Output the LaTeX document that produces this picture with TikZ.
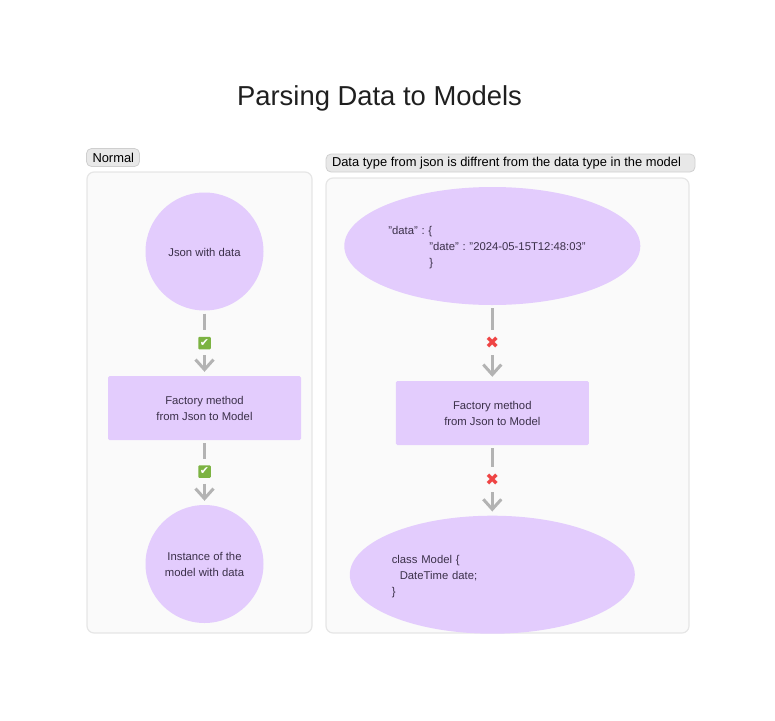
\documentclass[tikz,border=0pt]{standalone}
\usepackage{fontspec}
\setmainfont{Liberation Sans}
\newfontfamily\symbolfont{DejaVu Sans}
\usepackage{tikz}
\usetikzlibrary{arrows.meta}
\usetikzlibrary{shapes.geometric}
\definecolor{lilac}{HTML}{E3CCFD}
\definecolor{panelfill}{HTML}{FAFAFA}
\definecolor{panelline}{HTML}{E6E6E6}
\definecolor{tagfill}{HTML}{E8E8E8}
\definecolor{tagline}{HTML}{CFCFCF}
\definecolor{inktext}{HTML}{3B3049}
\definecolor{linkgrey}{HTML}{B3B3B3}
\definecolor{okgreen}{HTML}{7CB342}
\definecolor{badred}{HTML}{EF4444}
\frenchspacing
\tikzset{
  panel/.style={draw=panelline, line width=1.2pt, fill=panelfill, rounded corners=7pt, inner sep=0pt},
  tag/.style={draw=tagline, line width=0.8pt, fill=tagfill, rounded corners=5pt, inner ysep=0pt, inner xsep=6pt, minimum height=18pt, align=flush left, text=black, font=\fontsize{12.9}{16}\selectfont},
  nudge/.style={execute at begin node={\rule{0pt}{#1}}},
  blob/.style={fill=lilac, inner sep=0pt, text=inktext, font=\fontsize{11.3}{16}\selectfont, align=center, nudge=10pt},
  okmark/.style={fill=okgreen, rounded corners=1pt, minimum size=12.5pt, inner sep=0pt, text=white, font=\symbolfont\fontsize{11}{11}\selectfont},
  badmark/.style={minimum size=12.5pt, inner sep=0pt, text=badred, font=\symbolfont\fontsize{16.5}{17}\selectfont},
  linkin/.style={draw=linkgrey, line width=3pt, shorten <=3pt, shorten >=6.5pt},
  linkout/.style={draw=linkgrey, line width=3pt, shorten <=6pt, shorten >=4pt, -{Straight Barb[length=10pt,width=18pt]}}
}
\begin{document}
\begin{tikzpicture}[x=1pt, y=-1pt]
\useasboundingbox (0, 0) rectangle (775, 720);
\node[text=black!88, font=\fontsize{27.4}{32}\selectfont] (title) at (379.5, 98.5) {Parsing Data to Models};

\node[tag, text width=41pt] (normaltag) at (113, 157.5) {Normal};
\node[tag, text width=357pt] (wrongtag) at (510.5, 163) {Data type from json is diffrent from the data type in the model};
\node[panel, minimum width=225pt, minimum height=461pt] (normalpanel) at (199.5, 402.5) {};
\node[panel, minimum width=363pt, minimum height=455pt] (wrongpanel) at (507.5, 405.5) {};

\node[blob, circle, minimum size=118pt] (jsoncircle) at (204.5, 251.5) {Json with data};
\node[blob, rounded corners=1.5pt, minimum width=193pt, minimum height=64pt] (factoryleft) at (204.5, 408) {Factory method\\from Json to Model};
\node[blob, circle, minimum size=118pt] (instancecircle) at (204.5, 564) {Instance of the\\model with data};
\node[okmark] (okone) at (204.5, 343) {✔};
\node[okmark] (oktwo) at (204.5, 471.5) {✔};

\node[blob, ellipse, nudge=12pt, minimum width=296pt, minimum height=118pt, text width=208pt, align=left] (jsonellipse) at (492.3, 246) {"data" : \{\\\hspace*{41pt}"date" : "2024-05-15T12:48:03"\\\hspace*{41pt}\}};
\node[blob, rounded corners=1.5pt, minimum width=193pt, minimum height=64pt] (factoryright) at (492.3, 413) {Factory method\\from Json to Model};
\node[blob, ellipse, nudge=12pt, minimum width=285pt, minimum height=118pt, text width=201pt, align=left] (modelellipse) at (492.3, 574.7) {class Model \{\\\hspace*{8pt}DateTime date;\\\}};
\node[badmark] (badone) at (492.3, 343) {✖};
\node[badmark] (badtwo) at (492.3, 480) {✖};

\draw[linkin] (jsoncircle) -- (okone);
\draw[linkout] (okone) -- (factoryleft);
\draw[linkin] (factoryleft) -- (oktwo);
\draw[linkout] (oktwo) -- (instancecircle);
\draw[linkin] (jsonellipse) -- (badone);
\draw[linkout] (badone) -- (factoryright);
\draw[linkin] (factoryright) -- (badtwo);
\draw[linkout] (badtwo) -- (modelellipse);
\end{tikzpicture}
\end{document}
